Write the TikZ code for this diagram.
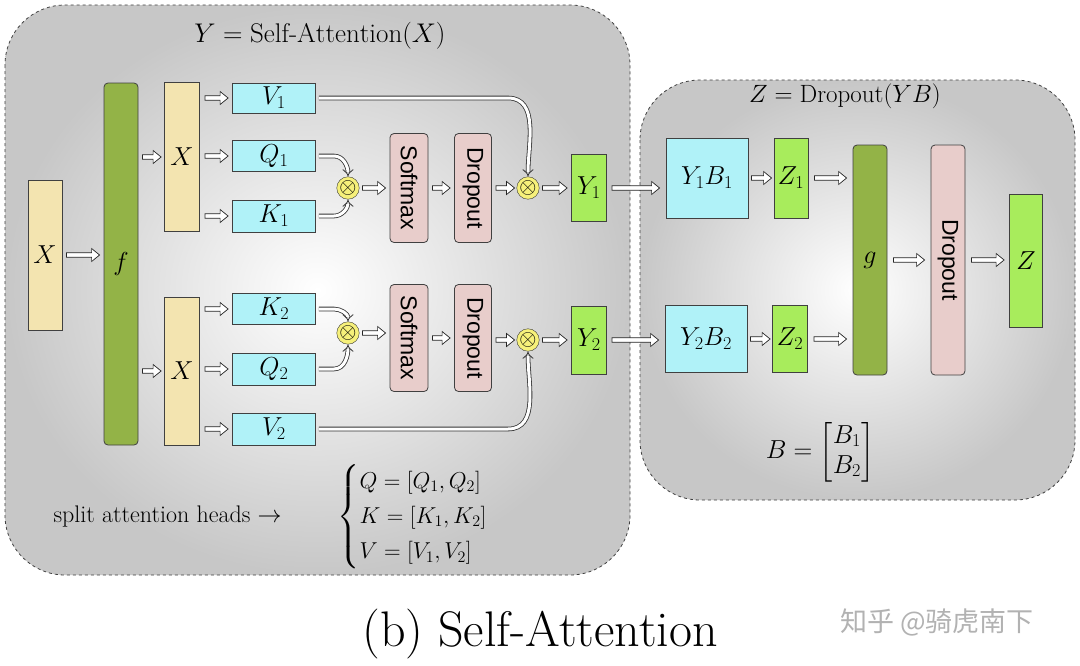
\documentclass[tikz,border=0pt]{standalone}
\IfFileExists{fix-cm.sty}{\RequirePackage{fix-cm}}{}
\usepackage{amsmath}
\usepackage{fontspec}
\newfontfamily\hsf{Liberation Sans}
\newfontfamily\cjk{Noto Sans CJK SC}
\usetikzlibrary{arrows.meta,calc}
\definecolor{cy}{HTML}{B0F2F8}
\definecolor{yl}{HTML}{F3E4B0}
\definecolor{gr}{HTML}{A8EC5C}
\definecolor{ol}{HTML}{93B347}
\definecolor{pk}{HTML}{E8CDCB}
\definecolor{ot}{HTML}{F6F07A}
% hollow horizontal double arrow from #1 to #2
\newcommand\harr[2]{\draw[ha] let \p1=(#1), \p2=(#2) in
  (\x1,\y1+2.2) -- (\x2-8,\y1+2.2) -- (\x2-8,\y1+6.5) -- (\x2,\y1) -- (\x2-8,\y1-6.5) -- (\x2-8,\y1-2.2) -- (\x1,\y1-2.2) -- cycle;}
\begin{document}
\begin{tikzpicture}[x=1pt,y=-1pt,
  bx/.style={draw=black!75,line width=0.8pt,minimum width=#1,inner sep=0pt,font=\fontsize{26}{30}\selectfont},
  rbx/.style={bx=#1,rounded corners=4pt},
  ha/.style={draw=black!85,fill=white,line width=0.7pt,line join=miter},
  da/.style={draw=black!80,double=white,double distance=3pt,line width=0.8pt,-{Implies[length=6pt]}},
  om/.style={circle,draw=black!80,fill=ot,minimum size=22pt,inner sep=0pt,font=\fontsize{22}{24}\selectfont},
  rt/.style={rotate=-90,font=\hsf\fontsize{23}{26}\selectfont},
  panel/.style={draw=black!75,dashed,line width=0.8pt,rounded corners=60pt,inner color=white,outer color=black!22}]
\useasboundingbox (0,0) rectangle (1080,665);
\fill[white] (0,0) rectangle (1080,665);
\shade[panel] (5,5) rectangle (630,575);
\shade[panel] (640,80) rectangle (1075,500);
\node (t1) at (320,36) {\fontsize{27}{30}\selectfont $Y=\mathrm{Self\text{-}Attention}(X)$};
\node (t2) at (845,96) {\fontsize{25}{28}\selectfont $Z=\mathrm{Dropout}(YB)$};
% left
\node[bx=34pt,fill=yl,minimum height=150pt] (x0) at (45,255) {$X$};
\node[rbx=34pt,fill=ol,minimum height=362pt] (f) at (121,264) {$f$};
\node[bx=35pt,fill=yl,minimum height=149pt] (xa) at (182,157) {$X$};
\node[bx=35pt,fill=yl,minimum height=148pt] (xb) at (182,371) {$X$};
\node[bx=83pt,fill=cy,minimum height=30pt] (v1) at (274,98) {$V_1$};
\node[bx=83pt,fill=cy,minimum height=31pt] (q1) at (274,156) {$Q_1$};
\node[bx=83pt,fill=cy,minimum height=32pt] (k1) at (274,216) {$K_1$};
\node[bx=83pt,fill=cy,minimum height=31pt] (k2) at (274,309) {$K_2$};
\node[bx=83pt,fill=cy,minimum height=32pt] (q2) at (274,369) {$Q_2$};
\node[bx=83pt,fill=cy,minimum height=32pt] (v2) at (274,429) {$V_2$};
\node[om] (m1) at (348,188) {$\otimes$};
\node[om] (m2) at (348,333) {$\otimes$};
\node[rbx=38pt,fill=pk,minimum height=109pt] (s1) at (409,188) {};
\node[rt] at (s1) {Softmax};
\node[rbx=37pt,fill=pk,minimum height=109pt] (d1) at (473,188) {};
\node[rt] at (d1) {Dropout};
\node[rbx=38pt,fill=pk,minimum height=107pt] (s2) at (409,338) {};
\node[rt] at (s2) {Softmax};
\node[rbx=37pt,fill=pk,minimum height=107pt] (d2) at (473,338) {};
\node[rt] at (d2) {Dropout};
\node[om] (m3) at (528,188) {$\otimes$};
\node[om] (m4) at (528,340) {$\otimes$};
\node[bx=35pt,fill=gr,minimum height=67pt] (y1) at (589,188) {$Y_1$};
\node[bx=35pt,fill=gr,minimum height=68pt] (y2) at (589,340) {$Y_2$};
% arrows left
\harr{$(x0.east)+(4,0)$}{$(f.west|-x0)+(-4,0)$}
\harr{$(f.east|-xa)+(4,0)$}{$(xa.west)+(-3,0)$}
\harr{$(f.east|-xb)+(4,0)$}{$(xb.west)+(-3,0)$}
\foreach \b in {v1,q1,k1}{\harr{$(xa.east|-\b)+(5,0)$}{$(\b.west)+(-4,0)$}}
\foreach \b in {k2,q2,v2}{\harr{$(xb.east|-\b)+(5,0)$}{$(\b.west)+(-4,0)$}}
\draw[da] ([xshift=3pt]q1.east) -- ++(15,0) to[out=0,in=90] (m1.north);
\draw[da] ([xshift=3pt]k1.east) -- ++(15,0) to[out=0,in=-90] (m1.south);
\draw[da] ([xshift=3pt]k2.east) -- ++(15,0) to[out=0,in=90] (m2.north);
\draw[da] ([xshift=3pt]q2.east) -- ++(15,0) to[out=0,in=-90] (m2.south);
\harr{$(m1.east)+(3,0)$}{$(s1.west|-m1)+(-4,0)$}
\harr{$(s1.east)+(4,0)$}{$(d1.west)+(-4,0)$}
\harr{$(d1.east)+(4,0)$}{$(m3.west)+(-2,0)$}
\harr{$(m3.east)+(3,0)$}{$(y1.west)+(-4,0)$}
\harr{$(m2.east)+(3,0)$}{$(s2.west|-m2)+(-4,0)$}
\harr{$(s2.east)+(4,0)$}{$(d2.west)+(-4,0)$}
\harr{$(d2.east|-m4)+(4,0)$}{$(m4.west)+(-2,0)$}
\harr{$(m4.east)+(3,0)$}{$(y2.west)+(-4,0)$}
\draw[da] ([xshift=3pt]v1.east) -- (508,98) to[out=0,in=90] (m3.north);
\draw[da] ([xshift=3pt]v2.east) -- (508,429) to[out=0,in=-90] (m4.south);
% right
\node[bx=82pt,fill=cy,minimum height=80pt] (yb1) at (707,178) {$Y_1B_1$};
\node[bx=82pt,fill=cy,minimum height=67pt] (yb2) at (706,339) {$Y_2B_2$};
\node[bx=34pt,fill=gr,minimum height=80pt] (z1) at (791,178) {$Z_1$};
\node[bx=35pt,fill=gr,minimum height=67pt] (z2) at (790,339) {$Z_2$};
\node[rbx=34pt,fill=ol,minimum height=230pt] (g) at (870,260) {$g$};
\node[rbx=34pt,fill=pk,minimum height=230pt] (dr) at (948,260) {};
\node[rt] at (dr) {Dropout};
\node[bx=33pt,fill=gr,minimum height=133pt] (z) at (1026,261) {$Z$};
\harr{$(y1.east)+(5,0)$}{$(yb1.west|-y1)+(-6,0)$}
\harr{$(y2.east)+(5,0)$}{$(yb2.west|-y2)+(-6,0)$}
\harr{$(yb1.east)+(3,0)$}{$(z1.west)+(-2,0)$}
\harr{$(yb2.east)+(3,0)$}{$(z2.west)+(-2,0)$}
\harr{$(z1.east)+(6,0)$}{$(g.west|-z1)+(-6,0)$}
\harr{$(z2.east)+(6,0)$}{$(g.west|-z2)+(-6,0)$}
\harr{$(g.east)+(6,0)$}{$(dr.west)+(-6,0)$}
\harr{$(dr.east)+(6,0)$}{$(z.west)+(-5,0)$}
\node (bm) at (820,452) {\fontsize{26}{30}\selectfont $B=\begin{bmatrix}B_1\\ B_2\end{bmatrix}$};
\node[anchor=west] (sp) at (50,517) {\fontsize{24}{28}\selectfont split attention heads $\rightarrow$};
\node[anchor=west] (cs) at (334,517) {\fontsize{23}{27}\selectfont $\begin{cases}Q=[Q_1,Q_2]\\[3pt] K=[K_1,K_2]\\[3pt] V=[V_1,V_2]\end{cases}$};
\node (cap) at (540,634) {\fontsize{50}{56}\selectfont (b) Self-Attention};
\node (wm) at (937,622) {\cjk\fontsize{27}{30}\selectfont\color{black!30} 知乎 @骑虎南下};
\end{tikzpicture}
\end{document}
